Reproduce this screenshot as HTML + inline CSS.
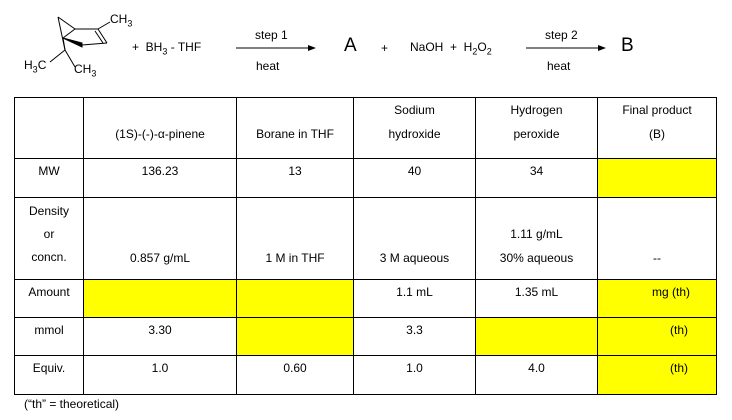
<!DOCTYPE html>
<html><head><meta charset="utf-8"><style>
body{margin:0;background:#fff;width:732px;height:420px;position:relative;overflow:hidden;font-family:"Liberation Sans",Arial,sans-serif;color:#000}
.t{position:absolute;font-size:12px;white-space:nowrap}
table{position:absolute;left:14px;top:97px;border-collapse:collapse;font-size:12px}
td{border:1.3px solid #000;padding:0;text-align:center;vertical-align:top;line-height:24px}
.y{background:#ff0}
</style></head><body>
<svg width="130" height="90" style="position:absolute;left:0;top:0" stroke="#000" stroke-width="1" fill="none">
<line x1="58" y1="17" x2="75" y2="29"/><line x1="58" y1="17" x2="65" y2="50"/>
<line x1="75" y1="29" x2="98" y2="29"/><line x1="98" y1="29" x2="110" y2="22"/>
<line x1="98" y1="29" x2="107" y2="43"/><line x1="95" y1="31" x2="103" y2="43"/>
<line x1="107" y1="43" x2="82" y2="45"/><polygon points="63,38 82,43 82,47" fill="#000"/>
<line x1="75" y1="29" x2="63" y2="38"/><line x1="63" y1="38" x2="65" y2="50"/>
<line x1="65" y1="50" x2="50" y2="62"/><line x1="65" y1="50" x2="75" y2="67"/>
</svg>
<div class="t" style="left:110px;top:12px">CH<sub style="font-size:9px">3</sub></div>
<div class="t" style="left:24px;top:58px">H<sub style="font-size:9px">3</sub>C</div>
<div class="t" style="left:74px;top:62px">CH<sub style="font-size:9px">3</sub></div>
<div class="t" style="left:132px;top:40px">+&nbsp; BH<sub style="font-size:9px">3</sub> - THF</div>
<svg width="80" height="10" style="position:absolute;left:236px;top:43px"><line x1="0" y1="5" x2="72" y2="5" stroke="#000"/><polygon points="72,2 80,5 72,8" fill="#000"/></svg>
<div class="t" style="left:255px;top:28px">step 1</div>
<div class="t" style="left:256px;top:59px">heat</div>
<div class="t" style="left:344px;top:35px;font-size:19px">A</div>
<div class="t" style="left:381px;top:41px">+</div>
<div class="t" style="left:410px;top:40px">NaOH &nbsp;+&nbsp; H<sub style="font-size:9px">2</sub>O<sub style="font-size:9px">2</sub></div>
<svg width="80" height="10" style="position:absolute;left:526px;top:43px"><line x1="0" y1="5" x2="72" y2="5" stroke="#000"/><polygon points="72,2 80,5 72,8" fill="#000"/></svg>
<div class="t" style="left:545px;top:28px">step 2</div>
<div class="t" style="left:547px;top:59px">heat</div>
<div class="t" style="left:621px;top:35px;font-size:19px">B</div>
<table>
<colgroup><col style="width:69px"><col style="width:153px"><col style="width:117px"><col style="width:122px"><col style="width:122px"><col style="width:119px"></colgroup>
<tr style="height:61px"><td></td><td style="padding-top:24px">(1S)-(-)-α-pinene</td><td style="padding-top:24px">Borane in THF</td><td>Sodium<br>hydroxide</td><td>Hydrogen<br>peroxide</td><td>Final product<br>(B)</td></tr>
<tr style="height:39px"><td style="padding-top:0">MW</td><td>136.23</td><td>13</td><td>40</td><td>34</td><td class="y"></td></tr>
<tr style="height:82px"><td style="line-height:23px;padding-top:2px">Density<br>or<br>concn.</td><td style="padding-top:48px">0.857 g/mL</td><td style="padding-top:48px">1 M in THF</td><td style="padding-top:48px">3 M aqueous</td><td style="padding-top:24px">1.11 g/mL<br>30% aqueous</td><td style="padding-top:48px">--</td></tr>
<tr style="height:38px"><td>Amount</td><td class="y"></td><td class="y"></td><td>1.1 mL</td><td>1.35 mL</td><td class="y" style="text-align:right;padding-right:26px">mg (th)</td></tr>
<tr style="height:38px"><td>mmol</td><td>3.30</td><td class="y"></td><td>3.3</td><td class="y"></td><td class="y" style="text-align:right;padding-right:28px">(th)</td></tr>
<tr style="height:39px"><td>Equiv.</td><td>1.0</td><td>0.60</td><td>1.0</td><td>4.0</td><td class="y" style="text-align:right;padding-right:28px">(th)</td></tr>
</table>
<div class="t" style="left:24px;top:397px">(“th” = theoretical)</div>
</body></html>
